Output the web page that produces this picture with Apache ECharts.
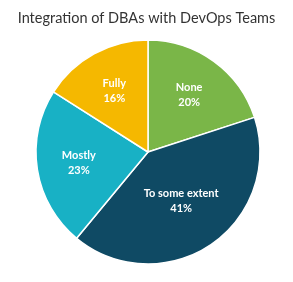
<!DOCTYPE html>
<html><head><meta charset="utf-8">
<script src="https://cdn.jsdelivr.net/npm/echarts@6/dist/echarts.min.js"></script>
<style>html,body{margin:0;padding:0;background:#fff}#c{width:293px;height:282px}</style>
</head><body><div id="c"></div>
<script>
const categories = ["None", "To some extent", "Mostly", "Fully"];
const values = [20, 41, 23, 16];
const colors = ["#7ab648", "#0f4a64", "#18b1c5", "#f5b800"];
const titleText = "Integration of DBAs with DevOps Teams";

const chart = echarts.init(document.getElementById('c'), null, {renderer: 'canvas'});
const labelStyle = {
  show: true, position: 'inside', color: '#fff', fontWeight: 'bold',
  fontSize: 11, lineHeight: 15, fontFamily: 'Lato',
  formatter: p => p.name + '\n' + p.value + '%'
};
chart.setOption({
  animation: false,
  title: {text: titleText, left: 'center', top: 6,
    textStyle: {fontFamily: 'Lato', fontSize: 14.5, fontWeight: 'normal', color: '#333'}},
  series: [{
    type: 'pie', center: [148, 152], radius: [0, 112], startAngle: 90, clockwise: true,
    silent: true,
    itemStyle: {borderColor: '#fff', borderWidth: 1.5},
    label: Object.assign({}, labelStyle, {show: false}),
    labelLine: {show: false},
    data: categories.map((c, i) => ({name: c, value: values[i], itemStyle: {color: colors[i]},
      label: {show: i === 1}}))
  }, {
    type: 'pie', center: [148, 152], radius: [0, 134], startAngle: 90, clockwise: true,
    silent: true, z: 5,
    itemStyle: {color: 'rgba(0,0,0,0)', borderWidth: 0},
    label: labelStyle,
    labelLine: {show: false},
    data: categories.map((c, i) => ({name: c, value: values[i], label: {show: i !== 1}}))
  }]
});
</script></body></html>
